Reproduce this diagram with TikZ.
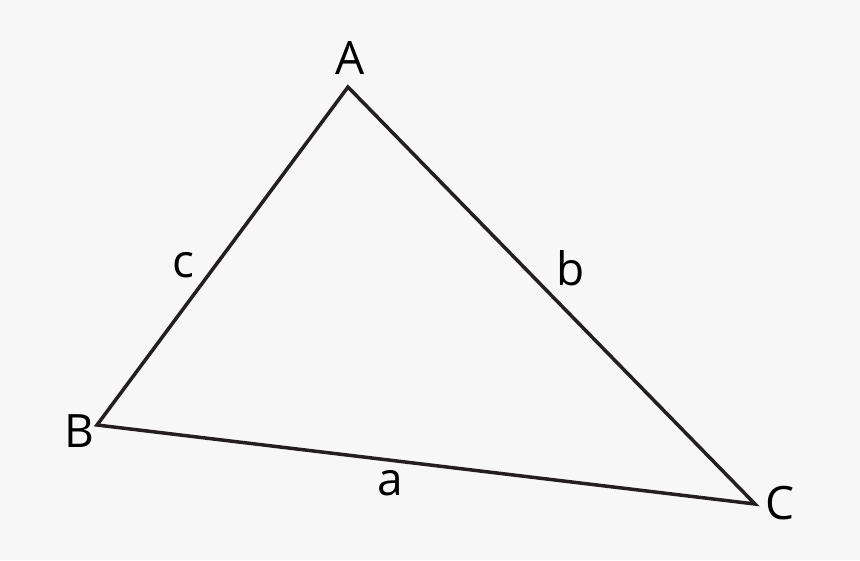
\documentclass[tikz,border=0pt]{standalone}
\usepackage{fontspec}
\setmainfont{Open Sans}
\usetikzlibrary{positioning}
\definecolor{paper}{HTML}{F7F7F7}
\definecolor{ink}{HTML}{231F20}
\tikzset{
	lbl/.style={inner sep=0pt,text=black,font=\fontsize{46}{50}\selectfont},
	side/.style={draw=ink,line width=3.5pt,line join=miter}
}
\begin{document}
\begin{tikzpicture}[x=1pt,y=-1pt]
	\fill[paper] (0,0) rectangle (860,560);
	\useasboundingbox (0,0) rectangle (860,560);
	% vertices
	\coordinate (vA) at (348,87);
	\coordinate (vB) at (97,425);
	\coordinate (vC) at (755,504);
	\draw[side] (vA) -- (vB) -- (vC) -- cycle;
	% labels
	\node[lbl] (A) at (350,58) {A};
	\node[lbl] (B) at (79,431) {B};
	\node[lbl] (C) at (780,503) {C};
	\node[lbl] (a) at (390,483) {a};
	\node[lbl] (b) at (571,268) {b};
	\node[lbl] (c) at (183,265) {c};
\end{tikzpicture}
\end{document}
